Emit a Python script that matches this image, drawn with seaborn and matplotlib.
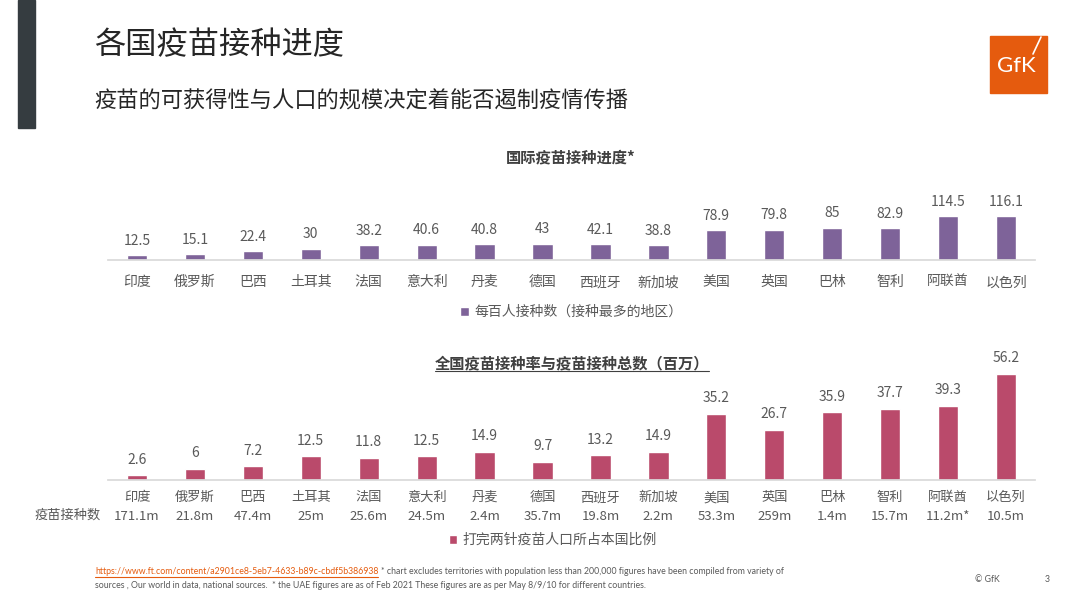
import matplotlib
matplotlib.use("Agg")
import matplotlib.pyplot as plt
import matplotlib.patches as mpatches
import seaborn as sns

# data
countries = ["印度", "俄罗斯", "巴西", "土耳其", "法国", "意大利", "丹麦", "德国",
             "西班牙", "新加坡", "美国", "英国", "巴林", "智利", "阿联酋", "以色列"]
doses_per_100 = [12.5, 15.1, 22.4, 30, 38.2, 40.6, 40.8, 43, 42.1, 38.8,
                 78.9, 79.8, 85, 82.9, 114.5, 116.1]
fully_vaccinated_pct = [2.6, 6, 7.2, 12.5, 11.8, 12.5, 14.9, 9.7, 13.2, 14.9,
                        35.2, 26.7, 35.9, 37.7, 39.3, 56.2]
total_doses = ["171.1m", "21.8m", "47.4m", "25m", "25.6m", "24.5m", "2.4m", "35.7m",
               "19.8m", "2.2m", "53.3m", "259m", "1.4m", "15.7m", "11.2m*", "10.5m"]

PURPLE = "#7E6399"
ROSE = "#BA4A6B"
GREY = "#595959"
LINE = "#D9D9D9"
LATIN = ["Lato", "DejaVu Sans"]

sns.set_theme(style="white")
plt.rcParams["font.family"] = ["Noto Sans CJK SC", "DejaVu Sans"]

fig = plt.figure(figsize=(10.8, 6.08), dpi=100)
W, H = 1080, 608

def fx(px):
    return px / W

def fy(py):
    return 1 - py / H

# header
fig.patches.append(mpatches.Rectangle((fx(18), fy(128)), fx(17), 128 / H,
                                      transform=fig.transFigure, color="#353C40"))
fig.text(fx(94), fy(45), "各国疫苗接种进度", fontsize=22.5, color="#262626", va="center")
fig.text(fx(94), fy(101), "疫苗的可获得性与人口的规模决定着能否遏制疫情传播",
         fontsize=16, color="#262626", va="center")

# GfK logo
fig.patches.append(mpatches.Rectangle((fx(990), fy(93)), fx(57), 57 / H,
                                      transform=fig.transFigure, color="#E55B0E"))
fig.text(fx(1016), fy(66), "GfK", fontsize=16, color="white", ha="center",
         va="center", family=LATIN)
fig.lines.append(plt.Line2D([fx(1033), fx(1041)], [fy(54), fy(37)],
                            transform=fig.transFigure, color="white", lw=1.2))

# top chart
ax1 = fig.add_axes([fx(108), fy(260), fx(927), 80 / H])
sns.barplot(x=countries, y=doses_per_100, color=PURPLE, width=0.35, ax=ax1,
            saturation=1, label="每百人接种数（接种最多的地区）")
ax1.set_ylim(0, 210)
ax1.set_xlim(-0.5, 15.5)
for i, v in enumerate(doses_per_100):
    ax1.text(i, v + 19, f"{v:g}", ha="center", va="bottom", fontsize=10,
             color=GREY, clip_on=False)
ax1.set_yticks([])
ax1.tick_params(axis="x", length=0, pad=11, labelsize=10, labelcolor=GREY)
ax1.set_xlabel("")
for s in ["top", "left", "right"]:
    ax1.spines[s].set_visible(False)
ax1.spines["bottom"].set_color(LINE)
ax1.legend(loc="center", bbox_to_anchor=(0.5, -0.65), frameon=False, fontsize=10,
           handlelength=0.6, handleheight=0.6, handletextpad=0.4,
           labelcolor=GREY)
fig.text(fx(571), fy(157), "国际疫苗接种进度*", fontsize=11, weight="bold",
         color="#404040", ha="center", va="center")

# bottom chart
ax2 = fig.add_axes([fx(108), fy(480), fx(927), 120 / H])
sns.barplot(x=countries, y=fully_vaccinated_pct, color=ROSE, width=0.35, ax=ax2,
            saturation=1, label="打完两针疫苗人口所占本国比例")
ax2.set_ylim(0, 63.6)
ax2.set_xlim(-0.5, 15.5)
for i, v in enumerate(fully_vaccinated_pct):
    ax2.text(i, v + 4.5, f"{v:g}", ha="center", va="bottom", fontsize=10,
             color=GREY, clip_on=False)
ax2.set_xticks(range(len(countries)))
ax2.set_xticklabels([f"{c}\n{d}" for c, d in zip(countries, total_doses)],
                    linespacing=1.6)
ax2.set_yticks([])
ax2.tick_params(axis="x", length=0, pad=8, labelsize=9.5, labelcolor=GREY)
ax2.set_xlabel("")
for s in ["top", "left", "right"]:
    ax2.spines[s].set_visible(False)
ax2.spines["bottom"].set_color(LINE)
ax2.legend(loc="center", bbox_to_anchor=(0.48, -0.5), frameon=False, fontsize=10,
           handlelength=0.6, handleheight=0.6, handletextpad=0.4,
           labelcolor=GREY)
fig.text(fx(68), fy(515), "疫苗接种数", fontsize=9.5, color=GREY,
         ha="center", va="center")
t2 = fig.text(fx(572), fy(363), "全国疫苗接种率与疫苗接种总数（百万）", fontsize=11,
              weight="bold", color="#404040", ha="center", va="center")

# footer
url = fig.text(fx(95), fy(572), "https://www.ft.com/content/a2901ce8-5eb7-4633-b89c-cbdf5b386938",
               fontsize=6.3, color="#E55B0E", va="center", family=LATIN)
fig.text(fx(95), fy(585), "sources , Our world in data, national sources.  * the UAE figures are as of Feb 2021 These figures are as per May 8/9/10 for different countries.",
         fontsize=6.3, color=GREY, va="center", family=LATIN)
fig.text(fx(975), fy(579), "© GfK", fontsize=6.3, color=GREY, va="center", family=LATIN)
fig.text(fx(1045), fy(579), "3", fontsize=6.3, color=GREY, va="center", family=LATIN)

# underlines for the bottom title and the url, then the note after the url
fig.canvas.draw()
r = fig.canvas.get_renderer()
inv = fig.transFigure.inverted()
for t, col in [(t2, "#404040"), (url, "#E55B0E")]:
    bb = t.get_window_extent(r).transformed(inv)
    fig.lines.append(plt.Line2D([bb.x0, bb.x1], [bb.y0, bb.y0],
                                transform=fig.transFigure, color=col, lw=0.8))
ub = url.get_window_extent(r).transformed(inv)
fig.text(ub.x1 + fx(3), fy(572),
         "* chart excludes territories with population less than 200,000 figures have been compiled from variety of",
         fontsize=6.3, color=GREY, va="center", family=LATIN)

fig.savefig("out.png", dpi=100)
